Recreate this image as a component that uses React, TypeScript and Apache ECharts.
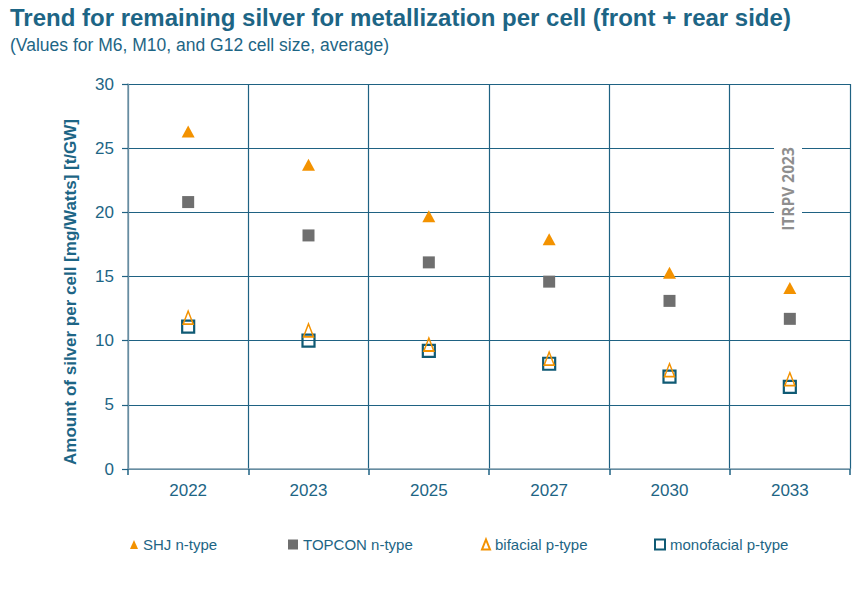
import React, { useEffect, useRef } from "react";
import * as echarts from "echarts";

// Categories (years) and silver consumption values in mg/W per cell type
const years = ["2022", "2023", "2025", "2027", "2030", "2033"];
const shjNType = [26.3, 23.7, 19.7, 17.9, 15.3, 14.1];
const topconNType = [20.8, 18.2, 16.1, 14.6, 13.1, 11.7];
const bifacialPType = [11.8, 10.8, 9.7, 8.6, 7.7, 7.0];
const monofacialPType = [11.1, 10.0, 9.2, 8.2, 7.2, 6.4];
const yTicks = { min: 0, max: 30, interval: 5 };

const TEAL = "#1d6585";
const GRID = "#1f6283";
const AXIS = "#7f9cad";
const ORANGE = "#f39200";
const GREY = "#6f6f6f";
const FONT = "'Liberation Sans', Arial, sans-serif";

export default function App() {
  const ref = useRef<HTMLDivElement>(null);

  useEffect(() => {
    if (!ref.current) return;
    const chart = echarts.init(ref.current, null, { renderer: "svg" });

    const legendText = { color: TEAL, fontSize: 15, fontFamily: FONT };
    const legendBase = {
      top: 537,
      orient: "horizontal" as const,
      itemWidth: 10,
      itemHeight: 10,
      itemGap: 4,
      padding: 0,
      textStyle: legendText,
    };

    chart.setOption({
      animation: false,
      backgroundColor: "#ffffff",
      textStyle: { fontFamily: FONT },
      title: [
        {
          text: "Trend for remaining silver for metallization per cell (front + rear side)",
          left: 10,
          top: 5,
          padding: 0,
          textStyle: { color: TEAL, fontSize: 24, fontWeight: "bold", fontFamily: FONT },
        },
        {
          text: "(Values for M6, M10, and G12 cell size, average)",
          left: 10,
          top: 36,
          padding: 0,
          textStyle: { color: TEAL, fontSize: 17.5, fontWeight: "normal", fontFamily: FONT },
        },
      ],
      grid: { left: 128, right: 18, top: 84, bottom: 123, containLabel: false },
      xAxis: {
        type: "category",
        data: years,
        boundaryGap: true,
        axisLine: { show: true, lineStyle: { color: AXIS, width: 1.5 } },
        axisTick: { show: true, length: 6, inside: false, alignWithLabel: false, lineStyle: { color: GRID, width: 1.5 } },
        axisLabel: { color: TEAL, fontSize: 17, margin: 13, fontFamily: FONT },
        splitLine: { show: true, lineStyle: { color: GRID, width: 1.2 } },
      },
      yAxis: {
        type: "value",
        min: yTicks.min,
        max: yTicks.max,
        interval: yTicks.interval,
        axisLine: { show: true, lineStyle: { color: AXIS, width: 1.5 } },
        axisTick: { show: true, length: 6, inside: false, lineStyle: { color: GRID, width: 1.2 } },
        axisLabel: { color: TEAL, fontSize: 17, margin: 14, fontFamily: FONT },
        splitLine: { show: true, lineStyle: { color: GRID, width: 1.2 } },
      },
      legend: [
        { ...legendBase, left: 130, data: ["SHJ n-type"], itemWidth: 8, itemHeight: 9 },
        { ...legendBase, left: 288, data: ["TOPCON n-type"] },
        { ...legendBase, left: 481, data: ["bifacial p-type"], itemWidth: 8, itemHeight: 10 },
        { ...legendBase, left: 654, data: ["monofacial p-type"] },
      ],
      graphic: [
        {
          type: "text",
          x: 70,
          y: 292,
          rotation: Math.PI / 2,
          style: {
            text: "Amount of silver per cell [mg/Watts] [t/GW]",
            fill: TEAL,
            font: `bold 17px ${FONT}`,
            align: "center",
            verticalAlign: "middle",
          },
        },
        {
          type: "text",
          x: 788,
          y: 189,
          z: 10,
          rotation: Math.PI / 2,
          style: {
            text: "ITRPV 2023",
            fill: "#8e8e8e",
            font: "bold 15.5px 'Open Sans', sans-serif",
            align: "center",
            verticalAlign: "middle",
            backgroundColor: "#ffffff",
            padding: [6, 3],
          },
        },
      ],
      series: [
        {
          name: "SHJ n-type",
          type: "scatter",
          data: shjNType,
          symbol: "triangle",
          symbolSize: [13, 12],
          itemStyle: { color: ORANGE, opacity: 1 },
          z: 3,
        },
        {
          name: "TOPCON n-type",
          type: "scatter",
          data: topconNType,
          symbol: "rect",
          symbolSize: 12,
          itemStyle: { color: GREY, opacity: 1 },
          z: 3,
        },
        {
          name: "monofacial p-type",
          type: "scatter",
          data: monofacialPType,
          symbol: "rect",
          symbolSize: 12,
          itemStyle: { color: "rgba(255,255,255,0)", borderColor: "#0f5a74", borderWidth: 2.2, opacity: 1 },
          z: 3,
        },
        {
          name: "bifacial p-type",
          type: "scatter",
          data: bifacialPType,
          symbol: "triangle",
          symbolSize: [10, 13],
          itemStyle: { color: "rgba(255,255,255,0)", borderColor: ORANGE, borderWidth: 1.6, opacity: 1 },
          z: 4,
        },
      ],
    });

    return () => chart.dispose();
  }, []);

  return <div ref={ref} style={{ width: 868, height: 592, margin: -8 }} />;
}
